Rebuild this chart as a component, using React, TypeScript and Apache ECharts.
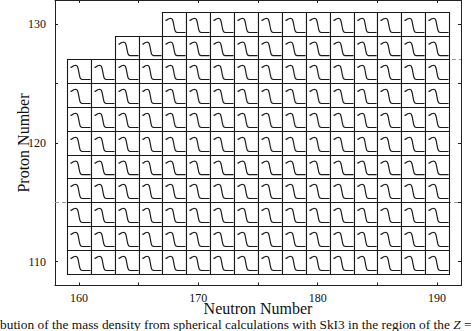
import React, { useEffect, useRef } from "react";
import * as echarts from "echarts";

// Nuclei grid: proton rows and the neutron numbers each row covers
const neutronNumbers = [160, 162, 164, 166, 168, 170, 172, 174, 176, 178, 180, 182, 184, 186, 188, 190];
const protonNumbers = [110, 112, 114, 116, 118, 120, 122, 124, 126, 128, 130];
const rowFirstNeutron = [160, 160, 160, 160, 160, 160, 160, 160, 160, 164, 168];

// Radial mass density profile drawn inside every cell (r in fm, rho in fm^-3)
const radiusFm = [0, 1, 2, 3, 4, 5, 6, 6.5, 7, 7.5, 8, 8.5, 9, 10, 11, 12, 14, 16, 18];
const densityFm3 = [0.138, 0.141, 0.15, 0.157, 0.16, 0.16, 0.152, 0.14, 0.116, 0.084, 0.05, 0.025, 0.011, 0.002, 0, 0, 0, 0, 0];
const radiusMax = 18;
const densityMax = 0.16;

// Axes
const neutronRange = [158, 192];
const protonRange = [108, 132];
const xTickValues = [160, 165, 170, 175, 180, 185, 190];
const xLabelValues = [160, 170, 180, 190];
const yTickValues = [110, 115, 120, 125, 130];
const yLabelValues = [110, 120, 130];

// Dashed guide lines between proton rows: [proton boundary, first neutron, last neutron]
const dashedProtonLines = [
  [115, 158, 192],
  [127, 159, 192],
];

const caption = "bution of the mass density from spherical calculations with SkI3 in the region of the ";

const serif = "'Liberation Serif', 'DejaVu Serif', serif";

export default function App() {
  const ref = useRef<HTMLDivElement>(null);

  useEffect(() => {
    if (!ref.current) return;
    const chart = echarts.init(ref.current, null, { renderer: "svg" });

    const nuclei: number[][] = [];
    protonNumbers.forEach((z, i) => {
      neutronNumbers
        .filter((n) => n >= rowFirstNeutron[i])
        .forEach((n) => nuclei.push([n, z]));
    });

    const crisp = (v: number) => Math.round(v) + 0.5;

    const axisLine = { show: true, lineStyle: { color: "#222", width: 1 } };
    const tick = (values: number[]) => ({
      show: true,
      inside: true,
      length: 3,
      customValues: values,
      lineStyle: { color: "#222" },
    });

    const option: any = {
      animation: false,
      backgroundColor: "#fff",
      grid: { left: 55, right: 13, top: -1, bottom: 45.5, containLabel: false },
      xAxis: [
        {
          type: "value",
          min: neutronRange[0],
          max: neutronRange[1],
          position: "bottom",
          axisLine,
          splitLine: { show: false },
          axisTick: tick(xTickValues),
          axisLabel: { customValues: xLabelValues, margin: 6, fontFamily: serif, fontSize: 12, color: "#111" },
        },
        {
          type: "value",
          min: neutronRange[0],
          max: neutronRange[1],
          position: "top",
          axisLine,
          splitLine: { show: false },
          axisTick: tick(xTickValues),
          axisLabel: { show: false },
        },
      ],
      yAxis: [
        {
          type: "value",
          min: protonRange[0],
          max: protonRange[1],
          position: "left",
          axisLine,
          splitLine: { show: false },
          axisTick: tick(yTickValues),
          axisLabel: { customValues: yLabelValues, margin: 9, fontFamily: serif, fontSize: 12, color: "#111" },
        },
        {
          type: "value",
          min: protonRange[0],
          max: protonRange[1],
          position: "right",
          axisLine,
          splitLine: { show: false },
          axisTick: tick(yTickValues),
          axisLabel: { show: false },
        },
      ],
      series: [
        {
          type: "custom",
          name: "guides",
          z: 1,
          data: dashedProtonLines,
          renderItem: (params: any, api: any) => {
            const z = api.value(0);
            const a = api.coord([api.value(1), z]);
            const b = api.coord([api.value(2), z]);
            return {
              type: "line",
              shape: { x1: a[0], y1: crisp(a[1]), x2: b[0], y2: crisp(b[1]) },
              style: { stroke: "#9a9a9a", lineWidth: 1, lineDash: [4, 3] },
            };
          },
          encode: { x: 1, y: 0 },
        },
        {
          type: "custom",
          name: "density",
          z: 2,
          data: nuclei,
          renderItem: (params: any, api: any) => {
            const n = api.value(0);
            const z = api.value(1);
            const tl = api.coord([n - 1, z + 1]);
            const br = api.coord([n + 1, z - 1]);
            const x0 = crisp(tl[0]);
            const y0 = crisp(tl[1]);
            const x1 = crisp(br[0]);
            const y1 = crisp(br[1]);
            const w = x1 - x0;
            const h = y1 - y0;
            const points = radiusFm.map((r, k) => [
              x0 + w * (0.125 + (r / radiusMax) * 0.835),
              y1 - h * (0.167 + (densityFm3[k] / densityMax) * 0.583),
            ]);
            return {
              type: "group",
              children: [
                {
                  type: "rect",
                  shape: { x: x0, y: y0, width: w, height: h },
                  style: { fill: "#fff", stroke: "#1a1a1a", lineWidth: 1.1 },
                },
                {
                  type: "polyline",
                  shape: { points, smooth: 0.3 },
                  style: { fill: "none", stroke: "#1a1a1a", lineWidth: 1.2 },
                },
              ],
            };
          },
        },
      ],
      graphic: [
        {
          type: "text",
          x: 258,
          y: 308.5,
          style: {
            text: "Neutron Number",
            fontFamily: serif,
            fontSize: 16,
            fill: "#111",
            align: "center",
            verticalAlign: "middle",
          },
        },
        {
          type: "text",
          x: 23,
          y: 143,
          rotation: Math.PI / 2,
          style: {
            text: "Proton Number",
            fontFamily: serif,
            fontSize: 16,
            fill: "#111",
            align: "center",
            verticalAlign: "middle",
          },
        },
        {
          type: "text",
          x: 0,
          y: 324.5,
          style: {
            text: "{a|" + caption + "}{z|Z}{a| =}",
            verticalAlign: "middle",
            rich: {
              a: { fontFamily: serif, fontSize: 13.4, fill: "#111" },
              z: { fontFamily: serif, fontSize: 13.4, fontStyle: "italic", fill: "#111" },
            },
          },
        },
      ],
    };

    chart.setOption(option);
    return () => chart.dispose();
  }, []);

  return (
    <div
      ref={ref}
      style={{ position: "fixed", left: 0, top: 0, width: 474, height: 331, background: "#fff" }}
    />
  );
}
